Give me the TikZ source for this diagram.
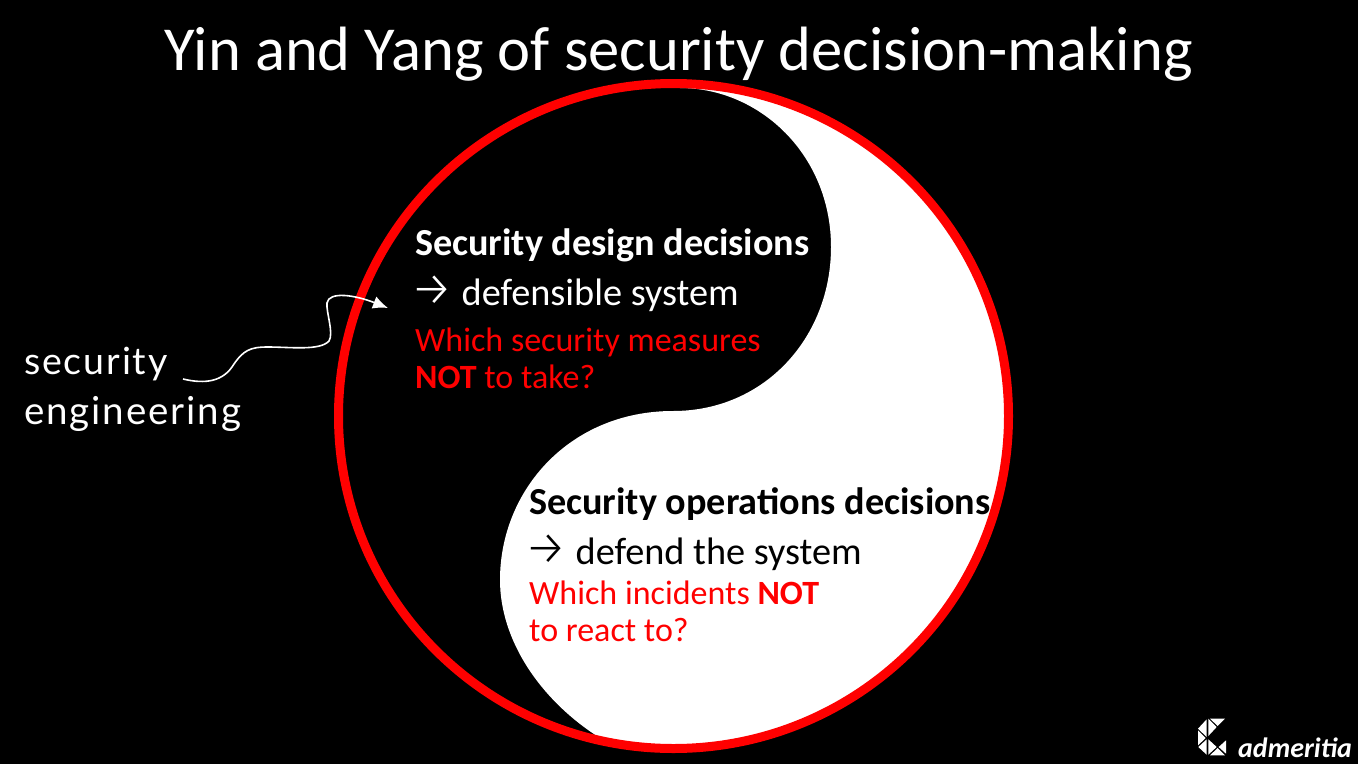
\documentclass[tikz,border=0pt]{standalone}
\usepackage{fontspec}
\usepackage{graphicx}
\setmainfont{Carlito}
\newfontfamily\handfont[LetterSpace=5]{Lato}
\newfontfamily\arrowfont{Fira Sans Light}
\usetikzlibrary{arrows.meta}
\definecolor{sred}{RGB}{255,0,0}
\newcommand{\bigarrow}{\makebox[46.5pt][l]{\hspace*{-5pt}{\arrowfont\fontsize{48}{48}\selectfont\symbol{"2192}}}}
\tikzset{
  x=1pt,y=-1pt,
  txt/.style={inner sep=0pt,anchor=base west,align=left},
  head/.style={txt,font=\fontsize{38.2}{44}\selectfont\bfseries},
  sub/.style={txt,font=\fontsize{38.3}{44}\selectfont},
  rd/.style={txt,font=\fontsize{34}{40}\selectfont,text=sred},
  hand/.style={txt,text=white,font=\handfont\fontsize{38.5}{50}\selectfont},
}
\begin{document}
\begin{tikzpicture}
\useasboundingbox (0,0) rectangle (1358,764);
\fill[black] (0,0) rectangle (1358,764);
\node[inner sep=0pt,anchor=base,text=white,font=\fontsize{62.6}{70}\selectfont] (title) at (678.5,70) {Yin and Yang of security decision-making};
% yin yang: the white half, the black half is the background
\fill[white] (680,88) .. controls (760,88) and (831,155) .. (831,247)
  .. controls (831,337) and (765,411) .. (673,411)
  .. controls (570,411) and (500,490) .. (500,580)
  .. controls (500,640) and (540,700) .. (600,738)
  -- (673.5,748.5)
  arc[start angle=90,end angle=-90,x radius=335,y radius=332.5] -- cycle;
\draw[sred,line width=9pt] (673.5,416) ellipse [x radius=335,y radius=332.5];
% texts
\node[head,text=white] (h1) at (415,255) {Security design decisions};
\node[sub,text=white] (s1) at (415,305) {\bigarrow defensible system};
\node[rd] (r1) at (415,351) {Which security measures};
\node[rd] (r2) at (415,388) {\textbf{NOT} to take?};
\node[head,text=black] (h2) at (529,514) {Security operations decisions};
\node[sub,text=black] (s2) at (529,564) {\bigarrow defend the system};
\node[rd] (r3) at (529,604) {Which incidents \textbf{NOT}};
\node[rd] (r4) at (529,641) {to react to?};
% hand label
\node[hand,font=\handfont\fontsize{37.5}{50}\selectfont] (l1) at (24,374) {security};
\node[hand] (l2) at (24,424) {engineering};
\coordinate (st) at (183,379);
\coordinate (en) at (388,308);
\draw[white,line width=1.6pt,-{Latex[length=15pt,width=13pt]}] (st)
  .. controls (200,383) and (220,384) .. (232,367)
  .. controls (243,350) and (250,347) .. (268,347)
  .. controls (290,347) and (320,351) .. (329,341)
  .. controls (334,333) and (326,312) .. (327,303)
  .. controls (329,291) and (355,295) .. (en);
% logo
\begin{scope}[shift={(1190,712)},x=0.3333pt,y=-0.3333pt]
\fill[white] (50,22) -- (24,50) -- (50,75) -- cycle;
\fill[white] (55,20) -- (80,45) -- (55,72) -- cycle;
\fill[white] (60,20) -- (105,20) -- (83,42) -- cycle;
\fill[white] (24,55) -- (47,78) -- (24,100) -- cycle;
\fill[white] (50,82) -- (25,105) -- (50,128) -- cycle;
\fill[white] (55,82) -- (80,105) -- (55,128) -- cycle;
\fill[white] (60,130) -- (105,130) -- (83,108) -- cycle;
\fill[white] (108,85) -- (108,125) -- (86,105) -- cycle;
\end{scope}
\node[inner sep=0pt,anchor=base west,text=white,font=\fontsize{28}{30}\selectfont\bfseries\itshape] (logo) at (1238,757) {admeritia};
\end{tikzpicture}
\end{document}
